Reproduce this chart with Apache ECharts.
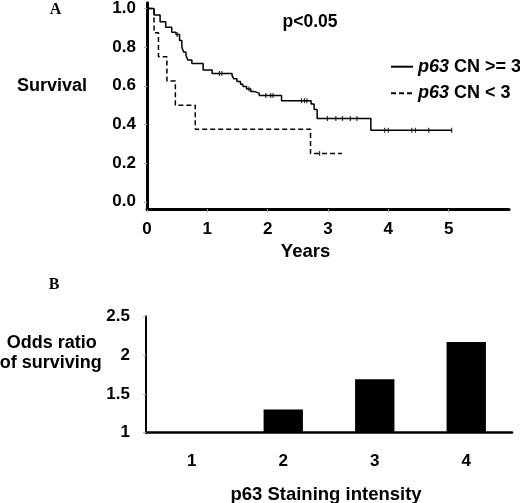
<!DOCTYPE html>
<html>
<head>
<meta charset="utf-8">
<title>p63 survival</title>
<script src="https://cdn.jsdelivr.net/npm/echarts@6.0.0/dist/echarts.min.js"></script>
<style>
    html, body { margin: 0; padding: 0; background: #fff; }
    #chart { width: 520px; height: 503px; }
</style>
</head>
<body>
<div id="chart"></div>
<script>
// Panel A: Kaplan-Meier steps (years, survival after each event)
var highCnTimes = [0, 0.117, 0.217, 0.31, 0.41, 0.48, 0.54, 0.578, 0.606, 0.645, 0.678, 0.744, 0.93, 1.08, 1.41, 1.44, 1.49, 1.55, 1.59, 1.65, 1.72, 1.77, 1.86, 2.23, 2.72, 2.77, 2.82, 3.71, 5.05];
var highCnSurv = [1, 0.966, 0.932, 0.903, 0.877, 0.866, 0.835, 0.80, 0.775, 0.758, 0.733, 0.715, 0.682, 0.664, 0.653, 0.636, 0.622, 0.608, 0.596, 0.583, 0.571, 0.562, 0.55, 0.523, 0.506, 0.477, 0.431, 0.37, 0.37];
var highCensorTimes = [0.5, 1.2, 1.24, 1.69, 1.97, 2.05, 2.09, 2.56, 2.61, 2.65, 2.99, 3.13, 3.24, 3.37, 3.48, 3.94, 4.0, 4.39, 4.45, 4.67, 5.05];
var highCensorSurv = [0.866, 0.664, 0.664, 0.583, 0.55, 0.55, 0.55, 0.523, 0.523, 0.523, 0.431, 0.431, 0.431, 0.431, 0.431, 0.37, 0.37, 0.37, 0.37, 0.37, 0.37];

var lowCnTimes = [0, 0.117, 0.19, 0.33, 0.47, 0.8, 2.71, 3.23];
var lowCnSurv = [1, 0.875, 0.75, 0.625, 0.5, 0.375, 0.25, 0.25];
var lowCensorTimes = [2.86];
var lowCensorSurv = [0.25];

var survivalTicks = [0, 0.2, 0.4, 0.6, 0.8, 1.0];
var yearTicks = [0, 1, 2, 3, 4, 5];
var seriesNames = ['p63 CN >= 3', 'p63 CN < 3'];

// Panel B: odds ratio by staining intensity
var intensityLevels = ['1', '2', '3', '4'];
var oddsRatios = [1.0, 1.3, 1.69, 2.17];

var chartPage = {
    font: '"Liberation Sans", Arial, sans-serif',

    pairs: function (xs, ys) {
        var out = [];
        for (var i = 0; i < xs.length; i++) {
            out.push([xs[i], ys[i]]);
        }
        return out;
    },

    text: function (x, y, str, size, family) {
        return {
            type: 'text', x: x, y: y,
            style: {
                text: str, fill: '#000',
                font: 'bold ' + size + 'px ' + (family || this.font),
                align: 'center', verticalAlign: 'middle'
            }
        };
    },

    buildOption: function () {
        var f = this.font;
        var labelStyle = { color: '#000', fontWeight: 'bold', fontSize: 17, fontFamily: f };
        var tickStyle = { color: '#aaa', width: 1 };

        return {
            animation: false,
            backgroundColor: '#fff',
            grid: [
                { left: 147, right: 11, top: 0, bottom: 293.7 },
                { left: 146, right: 8, top: 316.3, bottom: 70.3 }
            ],
            xAxis: [
                {
                    gridIndex: 0, type: 'value', min: 0, max: 6,
                    axisLine: { onZero: false, lineStyle: { color: '#000', width: 3 } },
                    axisTick: { length: 3, lineStyle: tickStyle, customValues: yearTicks },
                    axisLabel: Object.assign({ margin: 12, customValues: yearTicks }, labelStyle),
                    splitLine: { show: false }
                },
                {
                    gridIndex: 1, type: 'category', data: intensityLevels,
                    axisLine: { lineStyle: { color: '#000', width: 2.5 } },
                    axisTick: { length: 3, lineStyle: tickStyle },
                    axisLabel: Object.assign({ margin: 20 }, labelStyle)
                }
            ],
            yAxis: [
                {
                    gridIndex: 0, type: 'value', min: -0.039, max: 1.03,
                    axisLine: { show: true, lineStyle: { color: '#000', width: 3 } },
                    axisTick: { show: true, length: 3, lineStyle: tickStyle, customValues: survivalTicks },
                    axisLabel: Object.assign({
                        margin: 11, customValues: survivalTicks,
                        formatter: function (v) { return v.toFixed(1); }
                    }, labelStyle),
                    splitLine: { show: false }
                },
                {
                    gridIndex: 1, type: 'value', min: 1, max: 2.5, interval: 0.5,
                    axisLine: { show: true, lineStyle: { color: '#000', width: 2 } },
                    axisTick: { show: true, length: 3, lineStyle: tickStyle },
                    axisLabel: Object.assign({ margin: 16 }, labelStyle),
                    splitLine: { show: false }
                }
            ],
            legend: {
                data: seriesNames,
                orient: 'vertical',
                left: 385, top: 51.7,
                itemWidth: 22, itemHeight: 14, itemGap: 6.6,
                // line only, no marker
                itemStyle: { opacity: 0 },
                formatter: function (name) {
                    return name.replace('p63', '{i|p63}');
                },
                textStyle: {
                    color: '#000', fontWeight: 'bold', fontSize: 18, fontFamily: f, lineHeight: 20,
                    rich: {
                        i: { fontStyle: 'italic', fontWeight: 'bold', fontSize: 18, fontFamily: f, color: '#000' }
                    }
                }
            },
            series: [
                {
                    name: seriesNames[0], type: 'line', step: 'end',
                    xAxisIndex: 0, yAxisIndex: 0, symbol: 'none',
                    lineStyle: { color: '#000', width: 1.5 },
                    itemStyle: { color: '#000' },
                    data: this.pairs(highCnTimes, highCnSurv)
                },
                {
                    name: seriesNames[1], type: 'line', step: 'end',
                    xAxisIndex: 0, yAxisIndex: 0, symbol: 'none',
                    lineStyle: { color: '#000', width: 1.5, type: [5, 3] },
                    itemStyle: { color: '#000' },
                    data: this.pairs(lowCnTimes, lowCnSurv)
                },
                {
                    // censor marks
                    type: 'scatter', xAxisIndex: 0, yAxisIndex: 0,
                    symbol: 'rect', symbolSize: [1.2, 5],
                    itemStyle: { color: '#000' },
                    data: this.pairs(highCensorTimes, highCensorSurv)
                        .concat(this.pairs(lowCensorTimes, lowCensorSurv))
                },
                {
                    type: 'bar', xAxisIndex: 1, yAxisIndex: 1,
                    barWidth: '43%',
                    itemStyle: { color: '#000' },
                    data: oddsRatios
                }
            ],
            graphic: [
                this.text(55.5, 10, 'A', 16, '"Liberation Serif", "Times New Roman", serif'),
                this.text(54, 285, 'B', 16, '"Liberation Serif", "Times New Roman", serif'),
                this.text(52, 86, 'Survival', 18),
                this.text(310, 22, 'p<0.05', 17.5),
                this.text(305.5, 251.7, 'Years', 18.5),
                this.text(51.7, 343.3, 'Odds ratio', 18),
                this.text(50.8, 363.3, 'of surviving', 18),
                this.text(326, 495, 'p63 Staining intensity', 18.5)
            ]
        };
    },

    init: function () {
        var chart = echarts.init(document.getElementById('chart'));
        chart.setOption(this.buildOption());
    }
};

try {
    chartPage.init();
} catch (e) {
    console.error(e);
}
</script>
</body>
</html>
